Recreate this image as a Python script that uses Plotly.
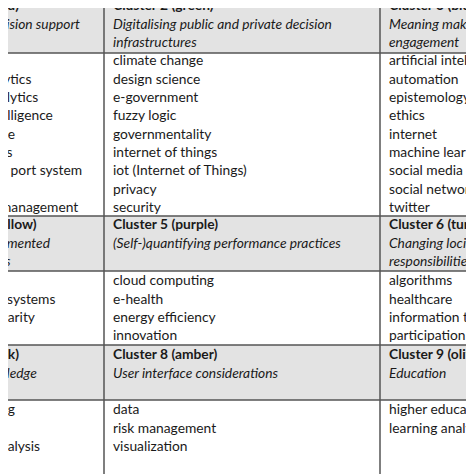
import plotly.graph_objects as go

# column text start positions (px) and text of each visible cell
col_x = [0, 113, 389]
header_rows = [
    ["<b>ed)</b>", "<b>Cluster 2 (green)</b>", "<b>Cluster 3 (blue)</b>"],
    ["<i>cision support</i>", "<i>Digitalising public and private decision</i>", "<i>Meaning making and</i>"],
    ["", "<i>infrastructures</i>", "<i>engagement</i>"],
]
items1 = [
    ["", "climate change", "artificial intelligence"],
    ["lytics", "design science", "automation"],
    ["alytics", "e-government", "epistemology"],
    ["elligence", "fuzzy logic", "ethics"],
    ["ue", "governmentality", "internet"],
    ["cs", "internet of things", "machine learning"],
    ["   port system", "iot (Internet of Things)", "social media"],
    ["", "privacy", "social networks"],
    ["management", "security", "twitter"],
]
header2 = [
    ["<b>ellow)</b>", "<b>Cluster 5 (purple)</b>", "<b>Cluster 6 (turquoise)</b>"],
    ["<i>gmented</i>", "<i>(Self-)quantifying performance practices</i>", "<i>Changing loci of</i>"],
    ["<i>ts</i>", "", "<i>responsibilities</i>"],
]
items2 = [
    ["", "cloud computing", "algorithms"],
    ["  systems", "e-health", "healthcare"],
    ["narity", "energy efficiency", "information technology"],
    ["", "innovation", "participation"],
]
header3 = [
    ["<b>nk)</b>", "<b>Cluster 8 (amber)</b>", "<b>Cluster 9 (olive)</b>"],
    ["<i>vledge</i>", "<i>User interface considerations</i>", "<i>Education</i>"],
]
items3 = [
    ["ng", "data", "higher education"],
    ["", "risk management", "learning analytics"],
    ["nalysis", "visualization", ""],
]

# (top y of first line, line list, header flag, block top, block bottom)
blocks = [
    (7, header_rows, True, 0, 53),
    (62, items1, False, 53, 216),
    (226, header2, True, 216, 271),
    (282, items2, False, 271, 345),
    (356, header3, True, 345, 400),
    (411, items3, False, 400, 490),
]
line_h = 18.3

fig = go.Figure()
shapes = []
for y0, rows, is_head, top, bot in blocks:
    if is_head:
        shapes.append(dict(type="rect", x0=-5, x1=490, y0=top, y1=bot,
                           fillcolor="#e3e3e3", line_width=0, layer="below"))
    xs, ys, ts = [], [], []
    for r, row in enumerate(rows):
        for c, t in enumerate(row):
            if t:
                xs.append(col_x[c]); ys.append(y0 + r * line_h); ts.append(t)
    fig.add_trace(go.Scatter(x=xs, y=ys, text=ts, mode="text", textposition="middle right",
                             textfont=dict(family="Lato", size=13.8, color="#1a1a1a"),
                             hoverinfo="skip", showlegend=False))

for y in [53, 216, 271, 345, 400]:
    shapes.append(dict(type="line", x0=-5, x1=490, y0=y, y1=y, line=dict(color="#555", width=1.5)))
for x in [104, 380]:
    shapes.append(dict(type="line", x0=x, x1=x, y0=-5, y1=490, line=dict(color="#555", width=1.5)))

# the page has an 8px body margin, so the axes are offset to keep marks where the reference has them
fig.update_layout(width=474, height=474, margin=dict(l=0, r=0, t=0, b=0),
                  plot_bgcolor="white", paper_bgcolor="white", shapes=shapes,
                  xaxis=dict(range=[8, 482], visible=False, fixedrange=True),
                  yaxis=dict(range=[482, 8], visible=False, fixedrange=True))
fig.write_html("out.html")
